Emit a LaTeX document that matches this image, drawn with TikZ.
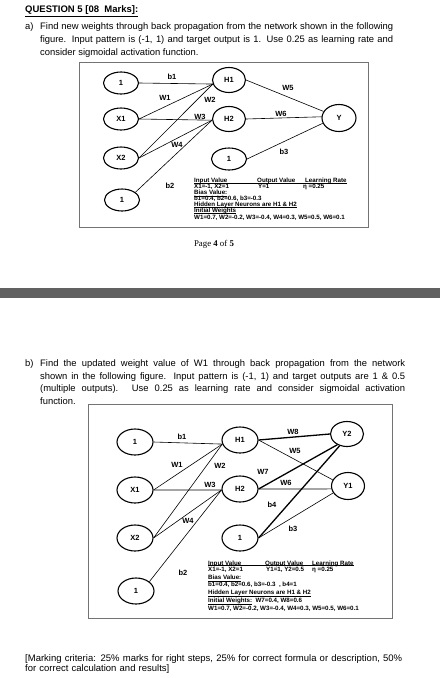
\documentclass[tikz,border=0pt]{standalone}
\usepackage{fontspec}
\setmainfont{Liberation Sans}
\newfontfamily\pagefont{Liberation Serif}
\usetikzlibrary{shapes.geometric}
\newcommand\ulsmash[1]{\underline{\smash{#1}}}
\tikzset{
  neuron/.style={ellipse, draw, line width=1.1pt, minimum width=35pt, minimum height=22pt, inner sep=0pt, font=\fontsize{7.5}{8}\selectfont\bfseries},
  neuronb/.style={neuron, minimum width=36pt, minimum height=26pt},
  wlabel/.style={font=\fontsize{7.5}{8}\selectfont\bfseries, inner sep=0pt},
  conn/.style={line width=0.6pt},
  heavy/.style={line width=1.3pt},
  info/.style={font=\fontsize{6.2}{6}\selectfont\bfseries, anchor=base west, inner sep=0pt},
  para/.style={font=\fontsize{9.4}{13}\selectfont, anchor=base west, inner sep=0pt, align=justify},
  figbox/.style={draw=black!55, line width=0.9pt},
  hdrline/.style={line width=0.45pt, yshift=-1.1pt},
}
\begin{document}
\begin{tikzpicture}[x=1pt,y=-1pt]
\useasboundingbox[fill=white] (0,0) rectangle (440,678);
% ---------- header and part a ----------
\node[anchor=base west, inner sep=0pt, font=\fontsize{9.5}{11}\selectfont\bfseries] (title) at (25,12.5) {\underline{QUESTION 5 [08\ \ Marks]:}};
\node[para] (alabel) at (25,29.5) {a)};
\node[para, text width=353pt] (atext) at (40,29.5) {Find new weights through back propagation from the network shown in the following\linebreak figure. Input pattern is (-1, 1) and target output is 1. Use 0.25 as learning rate and\linebreak consider sigmoidal activation function.};
% ---------- figure 1 ----------
\draw[figbox] (79,62) rectangle (368,227);
\node[neuron] (a1) at (121,83) {1};
\node[neuron] (ax1) at (121,119) {X1};
\node[neuron] (ax2) at (121,158) {X2};
\node[neuron] (a2) at (122,200) {1};
\node[neuron, minimum width=33pt, minimum height=25pt] (ah1) at (229,80) {H1};
\node[neuron, minimum width=33pt, minimum height=25pt] (ah2) at (229,119) {H2};
\node[neuron] (a3) at (229,159) {1};
\node[neuron, minimum width=34pt, minimum height=27pt] (ay) at (339,118) {Y};
\draw[conn] (a1.east) -- (ah1.194);
\draw[conn] (ax1.east) -- (ah1.194);
\draw[conn] (ax2.east) -- (ah1.194);
\draw[conn] (ax1.east) -- (ah2.184);
\draw[conn] (ax2.east) -- (ah2.184);
\draw[conn] (a2.30) -- (ah2.184);
\draw[conn] (ah1.east) -- (ay.157);
\draw[conn] (ah2.east) -- (ay.176);
\draw[conn] (a3.east) -- (ay.198);
\node[wlabel] (lab1) at (172,77) {b1};
\node[wlabel] (law1) at (165,98) {W1};
\node[wlabel] (law2) at (210,100) {W2};
\node[wlabel] (law3) at (200,117) {W3};
\node[wlabel] (law4) at (177,145) {W4};
\node[wlabel] (lab2) at (170,186) {b2};
\node[wlabel] (law5) at (288,88) {W5};
\node[wlabel] (law6) at (281,114) {W6};
\node[wlabel] (lab3) at (284,152) {b3};
\node[info] (ahdr1) at (194,182.5) {\smash{Input Value}};
\node[info] (ahdr2) at (257,182.5) {\smash{Output Value}};
\node[info] (ahdr3) at (305,182.5) {\smash{Learning Rate}};
\draw[hdrline] (ahdr1.south west) -- (ahdr3.south east);
\node[info] (ain) at (194,188.5) {X1=-1, X2=1};
\node[info] (aout) at (258,188.5) {Y=1};
\node[info] (aeta) at (303,188.5) {η =0.25};
\node[info] (abias) at (194,194.5) {\ulsmash{Bias Value:}};
\node[info] (abv) at (194,200) {b1=0.4, b2=0.6, b3=-0.3};
\node[info] (ahid) at (194,206) {\ulsmash{Hidden Layer Neurons are H1 \& H2}};
\node[info] (ainit) at (194,212) {\ulsmash{Initial Weights}};
\node[info] (aw) at (194,219) {W1=0.7, W2=-0.2, W3=-0.4, W4=0.3, W5=0.5, W6=0.1};
% ---------- footer and band ----------
\node[inner sep=0pt, font=\pagefont\fontsize{8.8}{10}\selectfont] (pg) at (214,244) {Page \textbf{4} of \textbf{5}};
\fill[black!62] (0,288) rectangle (440,298);
% ---------- part b ----------
\node[para] (blabel) at (25,366.5) {b)};
\node[para, text width=365pt, font=\fontsize{9.4}{12.7}\selectfont] (btext) at (40,366.5) {Find the updated weight value of W1 through back propagation from the network\linebreak shown in the following figure. Input pattern is (-1, 1) and target outputs are 1 \& 0.5\linebreak (multiple outputs). Use 0.25 as learning rate and consider sigmoidal activation\linebreak function.};
% ---------- figure 2 ----------
\draw[figbox] (88,404) rectangle (392,618);
\node[neuronb] (b1n) at (135,442) {1};
\node[neuronb] (bx1) at (135,490) {X1};
\node[neuronb] (bx2) at (135,538) {X2};
\node[neuronb] (b2n) at (136,591) {1};
\node[neuronb] (bh1) at (240,440) {H1};
\node[neuronb] (bh2) at (240,489) {H2};
\node[neuronb] (b3n) at (240,538) {1};
\node[neuronb, minimum width=33pt, minimum height=25pt] (by2) at (347,434) {Y2};
\node[neuronb, minimum width=33pt, minimum height=27pt] (by1) at (348,486) {Y1};
\draw[conn] (b1n.east) -- (bh1.193);
\draw[conn] (bx1.east) -- (bh1.193);
\draw[conn] (bx2.east) -- (bh1.193);
\draw[conn] (bx1.east) -- (bh2.183);
\draw[conn] (bx2.east) -- (bh2.183);
\draw[conn] (b2n.35) -- (bh2.183);
\draw[heavy] (bh1.east) -- (by2.west);
\draw[conn] (bh1.east) -- (by1.158);
\draw[heavy] (bh2.east) -- (by2.228);
\draw[conn] (bh2.east) -- (by1.190);
\draw[heavy] (b3n.east) -- (by2.238);
\draw[conn] (b3n.east) -- (by1.205);
\node[wlabel] (lbb1) at (182,437) {b1};
\node[wlabel] (lbw1) at (177,465) {W1};
\node[wlabel] (lbw2) at (220,466) {W2};
\node[wlabel] (lbw3) at (210,485) {W3};
\node[wlabel] (lbw4) at (188,521) {W4};
\node[wlabel] (lbb2) at (183,573) {b2};
\node[wlabel] (lbw8) at (293,432) {W8};
\node[wlabel] (lbw5) at (295,451) {W5};
\node[wlabel] (lbw7) at (263,472) {W7};
\node[wlabel] (lbw6) at (286,483) {W6};
\node[wlabel] (lbb4) at (272,505) {b4};
\node[wlabel] (lbb3) at (293,529) {b3};
\node[info] (bhdr1) at (208,565) {\smash{Input Value}};
\node[info] (bhdr2) at (265,565) {\smash{Output Value}};
\node[info] (bhdr3) at (312,565) {\smash{Learning Rate}};
\draw[hdrline] (bhdr1.south west) -- (bhdr3.south east);
\node[info] (bin) at (208,571.5) {X1=-1, X2=1};
\node[info] (bout) at (266,571.5) {Y1=1, Y2=0.5};
\node[info] (beta) at (312,571.5) {η =0.25};
\node[info] (bbias) at (208,579.5) {\ulsmash{Bias Value:}};
\node[info] (bbv) at (208,586.5) {b1=0.4, b2=0.6, b3=-0.3\ \ , b4=1};
\node[info] (bhid) at (208,594.5) {\ulsmash{Hidden Layer Neurons are H1 \& H2}};
\node[info] (binit) at (208,602.5) {\ulsmash{Initial Weights:}\ \ W7=0.4, W8=0.6};
\node[info] (bw) at (208,610.5) {W1=0.7, W2=-0.2, W3=-0.4, W4=0.3, W5=0.5, W6=0.1};
% ---------- marking criteria ----------
\node[anchor=base west, inner sep=0pt, text width=410pt, align=left, font=\fontsize{9.5}{10.3}\selectfont] (mark) at (25,661) {[Marking criteria: 25\% marks for right steps, 25\% for correct formula or description, 50\%\\ for correct calculation and results]};
\end{tikzpicture}
\end{document}
